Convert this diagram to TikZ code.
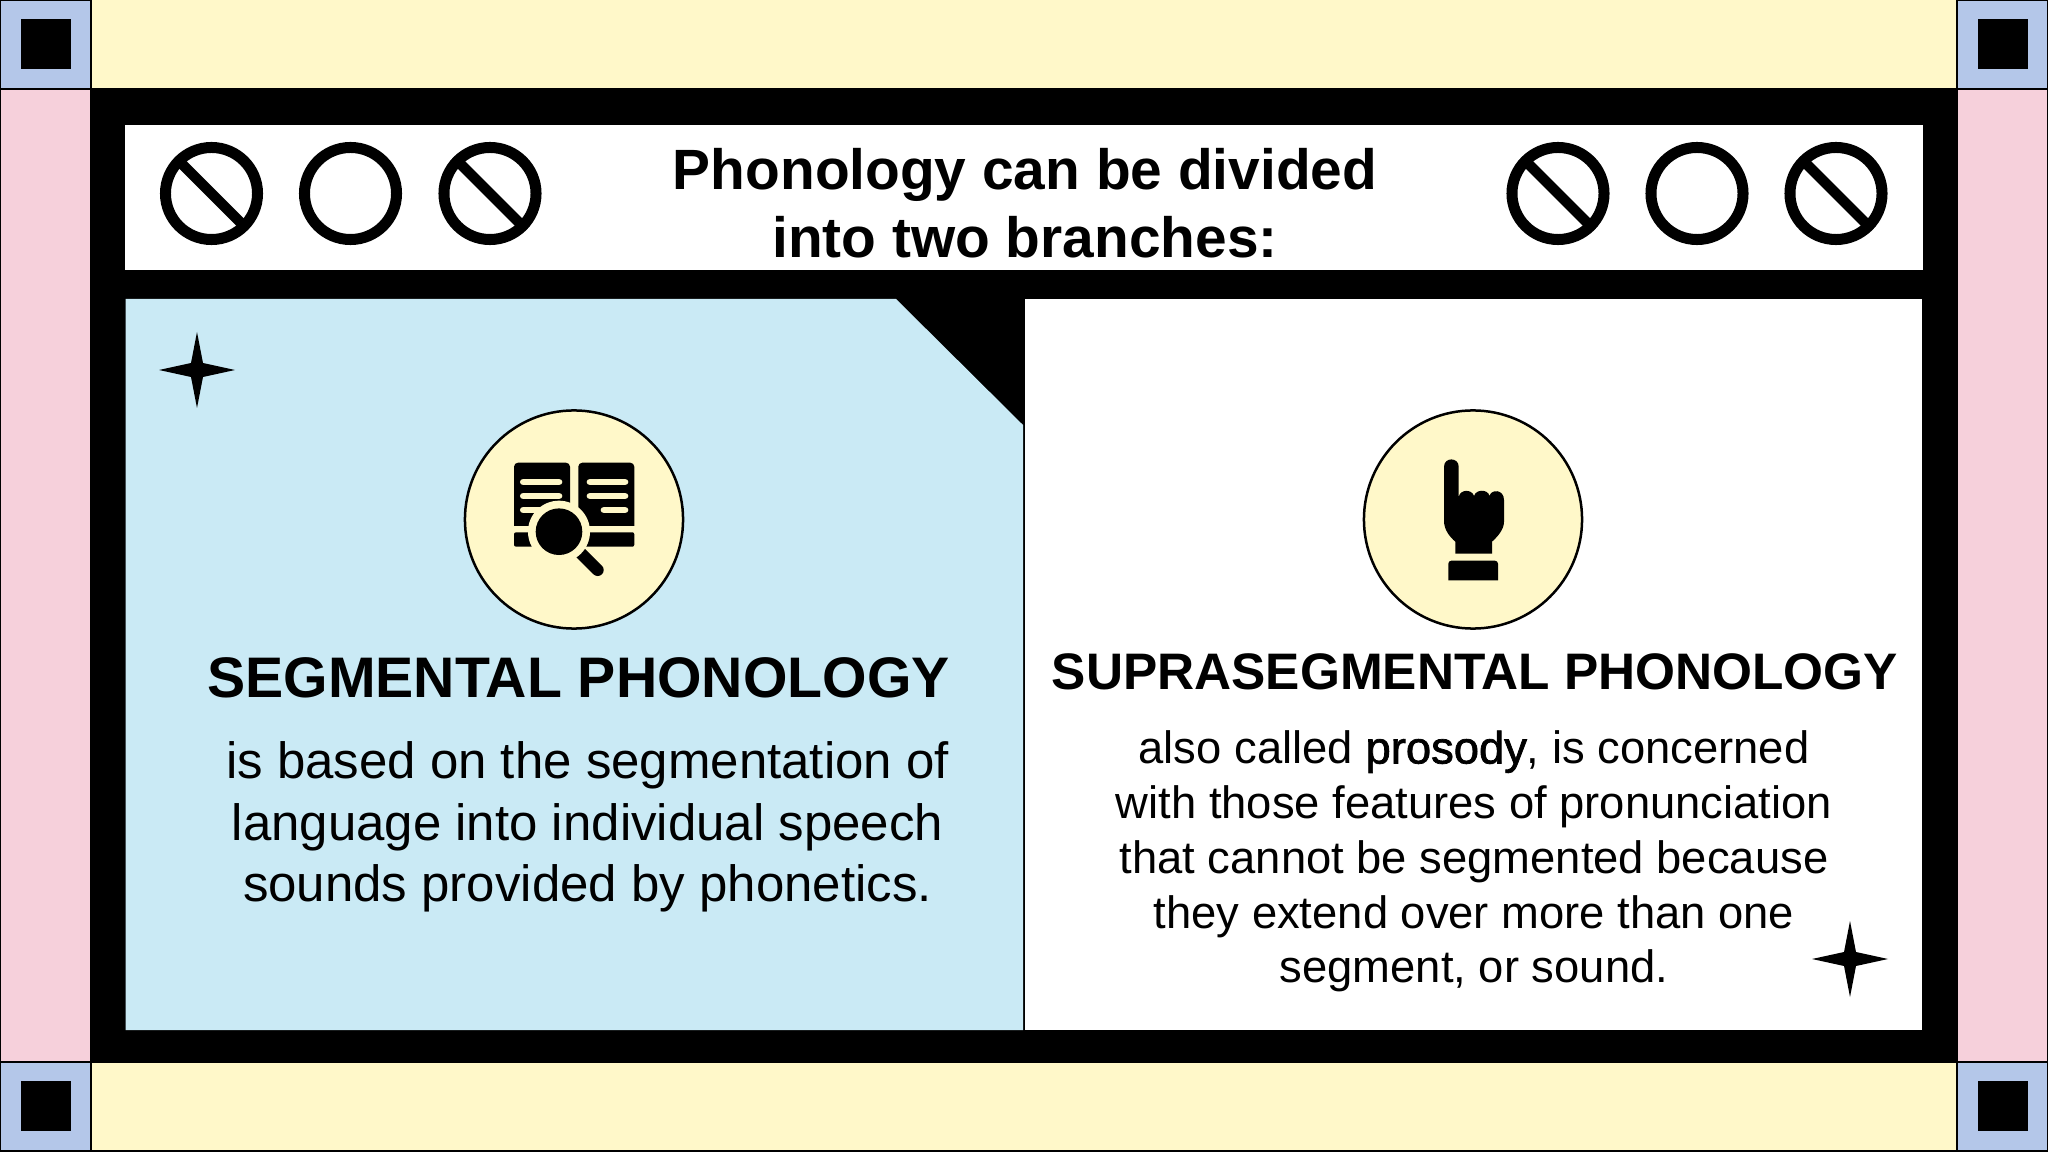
\documentclass[tikz,border=0pt]{standalone}
\usepackage{fontspec}
\setmainfont{Liberation Sans}
\newfontface\fakebf[FakeBold=1.6]{Liberation Sans}
\definecolor{lemon}{HTML}{FFF8C9}
\definecolor{rosa}{HTML}{F6D0DB}
\definecolor{corner}{HTML}{B4C7E9}
\definecolor{panel}{HTML}{CAEAF5}
\tikzset{
    band/.style={draw=black, line width=0.02cm},
    iconcirc/.style={circle, draw=black, line width=0.025cm, fill=lemon, minimum size=2.18cm, inner sep=0pt},
    ring/.style={circle, draw=black, line width=0.11cm, minimum size=0.92cm, inner sep=0pt},
    titletxt/.style={align=center, font=\fontsize{16.16}{19.4}\selectfont\bfseries},
    segtxt/.style={align=center, font=\fontsize{14.5}{17.5}\selectfont},
    supratxt/.style={align=center, font=\fontsize{12.9}{15.6}\selectfont},
}
\begin{document}
\begin{tikzpicture}[x=0.01cm, y=-0.01cm]
\useasboundingbox (0,0) rectangle (2048,1152);
% outer bands
\fill[lemon,band] (91,-2) rectangle (1957,89);
\fill[lemon,band] (91,1062) rectangle (1957,1151);
\fill[rosa,band] (0,89) rectangle (91,1062);
\fill[rosa,band] (1957,89) rectangle (2048,1062);
\fill[black] (91,89) rectangle (1957,1062);
% corners
\foreach \cx/\cy in {0/0,1957/0,0/1062,1957/1062}{
    \fill[corner,band] (\cx,\cy) rectangle ++(91,89);
    \fill[black] (\cx+20.5,\cy+19) rectangle ++(50,50);
}
% header
\fill[white] (124.5,125) rectangle (1923,270);
\foreach \rx/\slashed in {211.5/1,350.5/0,490/1,1558/1,1697/0,1836/1}{
    \node[ring] (r\rx) at (\rx,193.5) {};
    \ifnum\slashed=1
    \draw[line width=0.105cm] (\rx-36,193.5-36) -- (\rx+36,193.5+36);
    \fi
}
\node[titletxt] (title) at (1025,203.5) {Phonology can be divided\\into two branches:};
% panels
\fill[panel] (125.5,299) -- (896,299) -- (1023,425) -- (1023,1030) -- (125.5,1030) -- cycle;
\fill[white] (1025,299) rectangle (1922,1030);
\foreach \sx/\sy in {197/370,1850/959}{
    \fill[shift={(\sx,\sy)}] (0,-38) -- (6,-7) -- (38,0) -- (6,7) -- (0,38) -- (-6,7) -- (-38,0) -- (-6,-7) -- cycle;
}
% left icon
\node[iconcirc] (segcirc) at (574,519.5) {};
\fill (514,526) [rounded corners=0.04cm] -- (514,462.7) -- (570,462.7) [sharp corners] -- (570,526) -- cycle;
\fill (578.3,526) [rounded corners=0.04cm] -- (578.3,462.7) -- (634.3,462.7) [sharp corners] -- (634.3,526) -- cycle;
\fill[rounded corners=0.02cm] (514,532.3) rectangle (634.3,546.7);
\draw[lemon, line width=0.067cm, line cap=round] (523.3,482) -- (559,482) (523.3,496) -- (559,496) (523.3,510) -- (559,510);
\draw[lemon, line width=0.067cm, line cap=round] (590,482) -- (625,482) (590,496) -- (625,496) (604,510) -- (625,510);
\draw[line width=0.12cm, line cap=round] (559,531.7) -- (597.7,570);
\fill[lemon] (559,531.7) circle (0.31cm);
\fill (559,531.7) circle (0.233cm);
% right icon
\node[iconcirc] (supracirc) at (1473,519.5) {};
\fill (1458.7,466.7) -- (1458.7,497) .. controls (1460,489) and (1472,489) .. (1474,496) .. controls (1476,489) and (1488,489) .. (1489.5,496) .. controls (1491,489) and (1504,489) .. (1504,500) -- (1504,521.7) .. controls (1504,530) and (1497,537) .. (1492,541.7) -- (1492,553.7) -- (1455.3,553.7) -- (1455.3,541.7) .. controls (1450,537) and (1444,530) .. (1444,521) -- (1444,466.7) .. controls (1444,457) and (1458.7,457) .. (1458.7,466.7) -- cycle;
\fill (1448.3,580.3) [rounded corners=0.03cm] -- (1448.3,560.7) -- (1498,560.7) [sharp corners] -- (1498,580.3) -- cycle;
% texts
\node[font=\fontsize{16.26}{19}\selectfont\bfseries] (seghead) at (578.5,678) {SEGMENTAL PHONOLOGY};
\node[segtxt] (segbody) at (587.5,827) {is based on the segmentation of\\language into individual speech\\sounds provided by phonetics.};
\node[font=\fontsize{14.6}{17}\selectfont\bfseries] (suprahead) at (1475,672) {SUPRASEGMENTAL PHONOLOGY};
\node[supratxt] (suprabody) at (1474,861.5) {also called {\fakebf prosody}, is concerned\\with those features of pronunciation\\that cannot be segmented because\\they extend over more than one\\segment, or sound.};
\end{tikzpicture}
\end{document}
